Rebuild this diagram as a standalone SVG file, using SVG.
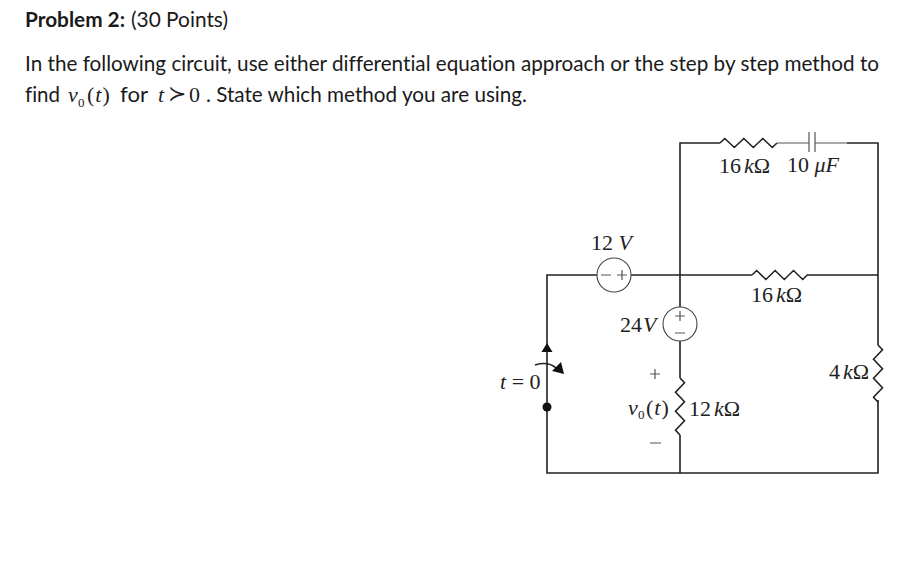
<svg xmlns="http://www.w3.org/2000/svg" width="903" height="578" viewBox="0 0 903 578">
<style>
.t{font-family:"Lato","Open Sans",sans-serif;font-size:20.5px;fill:#1a1a1a;font-variant-ligatures:none}
.b{font-weight:700}
.m{font-family:"Liberation Serif","Times New Roman",serif;font-size:22px;fill:#222}
.i{font-style:italic}
.w{fill:none;stroke:#222;stroke-width:1.6}
.g{fill:none;stroke:#555;stroke-width:1.2}
.c{fill:#fff;stroke:#444;stroke-width:1.1}
.s{font-size:13px}
</style>
<defs>
<path id="rh" d="M0 0l4.800-4.500 9.500 9 9.500-9 9.500 9 9.500-9 9.500 9 4.700-4.500" class="w"/>
<path id="rv" d="M0 0l4.500 4.800-9 9.500 9 9.500-9 9.500 9 9.500-9 9.500 4.500 4.700" class="w"/>
</defs>
<rect width="903" height="578" fill="#fff"/>
<g id="heading">
<text class="t b" x="25" y="27" textLength="100" lengthAdjust="spacingAndGlyphs">Problem 2:</text>
<text class="t" x="131" y="27" textLength="97" lengthAdjust="spacingAndGlyphs">(30 Points)</text>
<text class="t" x="25" y="71" textLength="854" lengthAdjust="spacingAndGlyphs">In the following circuit, use either differential equation approach or the step by step method to</text>
<text class="t" x="25" y="102" textLength="35" lengthAdjust="spacingAndGlyphs">find</text>
<text class="m i" x="68" y="102">v</text><text class="m s" x="78" y="107">0</text><text class="m" x="87" y="102" letter-spacing="1">(<tspan class="i">t</tspan>)</text>
<text class="t" x="120" y="102" textLength="28" lengthAdjust="spacingAndGlyphs">for</text>
<text class="m i" x="158" y="102">t</text><text class="m" x="168" y="101" font-size="15">≻</text><text class="m" x="189" y="102">0</text>
<text class="t" x="206" y="102" textLength="321" lengthAdjust="spacingAndGlyphs">. State which method you are using.</text>
</g>
<g id="connectors">
<path class="w" d="M597 275H547V473H878V400M631 275H752M807 275H878M878 345V143H847M720 143H680V307M680 341V378M680 435V473"/>
<path class="g" d="M777 143H809M815 143H847"/>
</g>
<g id="source-12v">
<circle class="c" cx="614" cy="275" r="17"/>
<path class="g" d="M601 275H611M617 275H627M622 270V280"/>
<text class="m" x="591" y="250">12 <tspan class="i">V</tspan></text>
</g>
<g id="source-24v">
<circle class="c" cx="680" cy="324" r="17"/>
<path class="g" d="M675 316H685M680 311V321M675 333H685"/>
<text class="m" x="620" y="332">24<tspan class="i" dx="1">V</tspan></text>
</g>
<g id="resistor-top">
<use href="#rh" x="720" y="143"/>
<text class="m" x="719" y="173">16<tspan class="i" dx="3">k</tspan>Ω</text>
</g>
<g id="capacitor">
<path class="g" d="M809 132V152M815 132V152"/>
<text class="m" x="787" y="172">10 <tspan class="i">μF</tspan></text>
</g>
<g id="resistor-mid">
<use href="#rh" x="752" y="275" transform="translate(752 275) scale(.97 1) translate(-752 -275)"/>
<text class="m" x="751" y="302">16<tspan class="i" dx="3">k</tspan>Ω</text>
</g>
<g id="resistor-right">
<use href="#rv" x="878" y="345"/>
<text class="m" x="829" y="379">4<tspan class="i" dx="3">k</tspan>Ω</text>
</g>
<g id="resistor-12k">
<use href="#rv" x="680" y="378"/>
<text class="m" x="689" y="416">12<tspan class="i" dx="3">k</tspan>Ω</text>
</g>
<g id="vo-label">
<path class="g" d="M650 374H660M655 369V379M650 443H661"/>
<text class="m i" x="628" y="415">v</text><text class="m s" x="638" y="419">0</text><text class="m" x="646" y="415" letter-spacing="1">(<tspan class="i">t</tspan>)</text>
</g>
<g id="switch">
<circle cx="547" cy="407" r="4.500" fill="#111"/>
<path d="M547 343L552.500 352H541.500Z" fill="#111"/>
<path class="w" d="M535 365Q548 361 556 368" stroke-width="1.200"/>
<path d="M564 374L552 371L561 362Z" fill="#111"/>
<text class="m" x="500" y="389"><tspan class="i">t</tspan> = 0</text>
</g>
</svg>
